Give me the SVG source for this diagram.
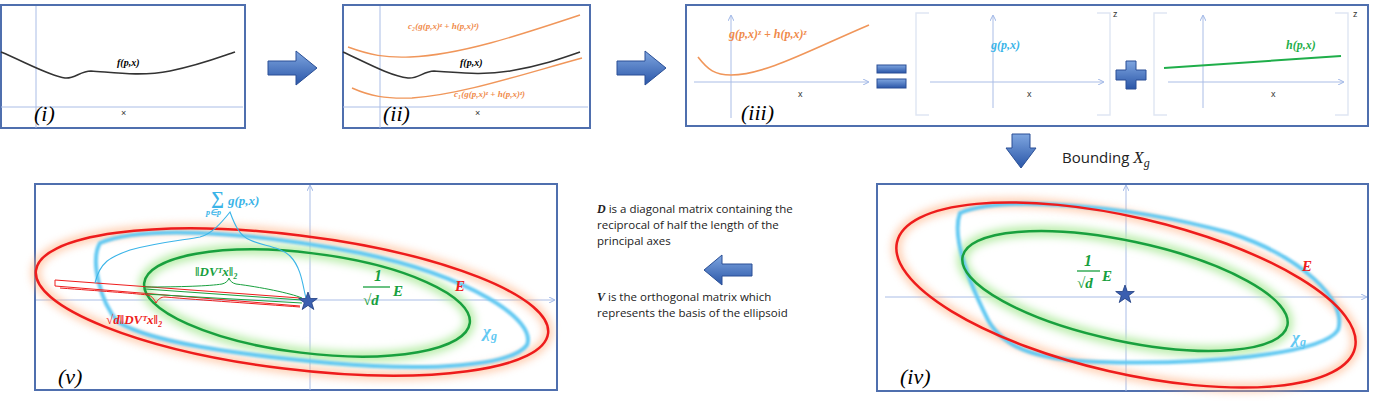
<svg xmlns="http://www.w3.org/2000/svg" width="1376" height="401" viewBox="0 0 1376 401">
<defs>
<filter id="glow" x="-20%" y="-40%" width="140%" height="180%"><feGaussianBlur stdDeviation="4"/></filter>
<filter id="soft" x="-20%" y="-40%" width="140%" height="180%"><feGaussianBlur stdDeviation="1.2"/></filter>
<linearGradient id="arr" x1="0" y1="0" x2="0" y2="1"><stop offset="0" stop-color="#7fa6e0"/><stop offset="1" stop-color="#2a56a8"/></linearGradient>
<marker id="ah" markerWidth="6" markerHeight="6" refX="5" refY="3" orient="auto"><path d="M0,0 L6,3 L0,6" fill="none" stroke="#9fb6e6"/></marker>
</defs>
<style>
.box{fill:#fff;stroke:#4f6fae;stroke-width:2}
.ax{stroke:#aabde6;stroke-width:1;fill:none}
.m{font-family:"Liberation Serif",serif;font-style:italic;font-weight:bold}
.lbl{font-family:"Liberation Serif",serif;font-style:italic;font-size:22px;fill:#000}
.t{font-family:"Open Sans","Liberation Sans",sans-serif;font-size:11.5px;fill:#222}
.sx{font-family:"Liberation Sans",sans-serif;font-size:9px;fill:#333}
.big{fill:url(#arr);stroke:#2a4f96;stroke-width:1}
</style>
<rect width="1376" height="401" fill="#fff"/>
<g id="panel-i">
<rect class="box" x="1" y="5" width="244" height="123"/>
<line class="ax" x1="36" y1="128" x2="36" y2="6"/>
<line class="ax" x1="1" y1="107" x2="243" y2="107"/>
<path d="M1,52 C25,62 50,76 65,78 C75,79 80,71 91,71 C110,72 140,77 170,71 C200,65 220,57 235,52" fill="none" stroke="#333" stroke-width="1.6"/>
<text class="m" x="117" y="66" font-size="10">f(p,x)</text>
<text class="lbl" x="34" y="121">(i)</text>
<text class="sx" x="121" y="116">×</text>
</g>
<g id="panel-ii">
<rect class="box" x="343" y="5" width="247" height="123"/>
<line class="ax" x1="380" y1="128" x2="380" y2="6"/>
<line class="ax" x1="343" y1="107" x2="588" y2="107"/>
<path d="M348,47 C370,55 385,58 410,57 C460,55 520,35 580,15" fill="none" stroke="#f0965a" stroke-width="1.4"/>
<path d="M352,88 C370,96 385,99 412,98 C460,95 520,75 582,58" fill="none" stroke="#f0965a" stroke-width="1.4"/>
<path d="M343,52 C365,62 390,76 408,78 C418,79 424,71 434,71 C455,72 480,76 510,71 C540,66 560,59 580,52" fill="none" stroke="#333" stroke-width="1.6"/>
<text class="m" x="408" y="29" font-size="9" fill="#ef8a4a">c₂(g(p,x)ᶻ + h(p,x)ᶻ)</text>
<text class="m" x="460" y="66" font-size="10">f(p,x)</text>
<text class="m" x="454" y="97" font-size="9" fill="#ef8a4a">c₁(g(p,x)ᶻ + h(p,x)ᶻ)</text>
<text class="lbl" x="383" y="121">(ii)</text>
<text class="sx" x="475" y="116">×</text>
</g>
<g id="panel-iii">
<rect class="box" x="686" y="5" width="682" height="121"/>
<line class="ax" x1="731" y1="118" x2="731" y2="16" marker-end="url(#ah)"/>
<line class="ax" x1="694" y1="82" x2="868" y2="82" marker-end="url(#ah)"/>
<path d="M698,57 C708,70 715,75 731,75 C765,75 810,50 869,25" fill="none" stroke="#f0965a" stroke-width="1.6"/>
<text class="m" x="729" y="38" font-size="12" fill="#ef8a4a" font-weight="normal">g(p,x)ᶻ + h(p,x)ᶻ</text>
<text class="sx" x="798" y="97">x</text>
<text class="lbl" x="741" y="120">(iii)</text>
<rect x="877" y="65" width="29" height="8" fill="url(#arr)" stroke="#2a4f96"/>
<rect x="877" y="79" width="29" height="9" fill="url(#arr)" stroke="#2a4f96"/>
<path d="M929,13 L916,13 L916,115 L929,115 M1097,13 L1110,13 L1110,115 L1097,115" fill="none" stroke="#dfe6f3" stroke-width="1.4"/>
<line class="ax" x1="993" y1="108" x2="993" y2="16" marker-end="url(#ah)"/>
<line class="ax" x1="930" y1="82" x2="1103" y2="82" marker-end="url(#ah)"/>
<text class="m" x="991" y="49" font-size="12" fill="#3ab4e8" font-weight="normal">g(p,x)</text>
<text class="sx" x="1027" y="97">x</text>
<text class="sx" x="1113" y="17">z</text>
<path d="M1116,70 h10 v-9 h10 v9 h10 v10 h-10 v9 h-10 v-9 h-10 z" fill="url(#arr)" stroke="#2a4f96"/>
<path d="M1167,13 L1154,13 L1154,115 L1167,115 M1335,13 L1348,13 L1348,115 L1335,115" fill="none" stroke="#dfe6f3" stroke-width="1.4"/>
<line class="ax" x1="1203" y1="108" x2="1203" y2="16" marker-end="url(#ah)"/>
<line class="ax" x1="1168" y1="82" x2="1343" y2="82" marker-end="url(#ah)"/>
<path d="M1164,68 L1341,56" stroke="#1fae4a" stroke-width="2" fill="none"/>
<text class="m" x="1286" y="49" font-size="12" fill="#1fae4a" font-weight="normal">h(p,x)</text>
<text class="sx" x="1271" y="97">x</text>
<text class="sx" x="1353" y="17">z</text>
</g>
<g id="panel-iv">
<rect class="box" x="877" y="184" width="491" height="207"/>
<line class="ax" x1="1126" y1="391" x2="1126" y2="186" marker-end="url(#ah)"/>
<line class="ax" x1="885" y1="297" x2="1366" y2="297" marker-end="url(#ah)"/>
<ellipse cx="1126" cy="295" rx="235" ry="78" transform="rotate(13 1126 295)" fill="none" stroke="#ffb080" stroke-width="8" filter="url(#glow)" opacity="0.7"/>
<ellipse cx="1125" cy="291" rx="166" ry="50" transform="rotate(12 1125 291)" fill="none" stroke="#b5eca5" stroke-width="10" filter="url(#glow)"/>
<path d="M960,213 C1000,196 1120,203 1230,233 C1300,256 1348,300 1338,330 C1322,355 1200,365 1100,362 C1030,360 1002,345 988,320 C973,290 950,240 960,213 Z" fill="none" stroke="#63c9f2" stroke-width="4" filter="url(#soft)"/>
<ellipse cx="1126" cy="295" rx="235" ry="78" transform="rotate(13 1126 295)" fill="none" stroke="#ee1c1c" stroke-width="2.5"/>
<ellipse cx="1125" cy="291" rx="166" ry="50" transform="rotate(12 1125 291)" fill="none" stroke="#18a03e" stroke-width="2.5"/>
<text class="m" x="1084" y="266" font-size="16" fill="#18a03e">1</text>
<line x1="1077" y1="271" x2="1100" y2="271" stroke="#18a03e" stroke-width="1.3"/>
<text class="m" x="1077" y="288" font-size="15" fill="#18a03e">√d</text>
<text class="m" x="1102" y="281" font-size="15" fill="#18a03e">E</text>
<text class="m" x="1302" y="271" font-size="15" fill="#ee1c1c">E</text>
<text class="m" x="1292" y="343" font-size="17" fill="#63c9f2" font-weight="normal">χ<tspan font-size="12" dy="3">g</tspan></text>
<path d="M1125,285 l2.3,6.5 h7 l-5.6,4.2 2.1,6.8 -5.8,-4.1 -5.8,4.1 2.1,-6.8 -5.6,-4.2 h7 z" fill="#3b5fb0" stroke="#1e3c80" stroke-width="0.8"/>
<text class="lbl" x="900" y="384">(iv)</text>
</g>
<g id="panel-v">
<rect class="box" x="35" y="184" width="522" height="206"/>
<line class="ax" x1="310" y1="390" x2="310" y2="186" marker-end="url(#ah)"/>
<line class="ax" x1="36" y1="300" x2="554" y2="300" marker-end="url(#ah)"/>
<ellipse cx="292" cy="302" rx="258" ry="67" transform="rotate(7 292 302)" fill="none" stroke="#ffb080" stroke-width="8" filter="url(#glow)" opacity="0.7"/>
<ellipse cx="307" cy="303" rx="164" ry="50" transform="rotate(7 307 303)" fill="none" stroke="#b5eca5" stroke-width="10" filter="url(#glow)"/>
<path d="M100,243 C140,226 240,230 360,253 C470,276 537,320 527,345 C512,366 430,372 330,363 C230,354 150,342 118,322 C100,302 90,260 100,243 Z" fill="none" stroke="#63c9f2" stroke-width="4" filter="url(#soft)"/>
<ellipse cx="292" cy="302" rx="258" ry="67" transform="rotate(7 292 302)" fill="none" stroke="#ee1c1c" stroke-width="2.5"/>
<ellipse cx="307" cy="303" rx="164" ry="50" transform="rotate(7 307 303)" fill="none" stroke="#18a03e" stroke-width="2.5"/>
<path d="M55,280 L300,298 M55,286 L300,306 M55,280 L55,286" stroke="#ee1c1c" stroke-width="1" fill="none"/>
<path d="M145,289 L302,300 M145,294 L302,303" stroke="#18a03e" stroke-width="1" fill="none"/>
<path d="M60,288 C100,291 130,293 148,295 C152,296 154,299 156,303 C158,299 161,297 165,297 C200,300 260,304 300,307" stroke="#ee1c1c" stroke-width="1" fill="none"/>
<path d="M145,287 C180,287 210,286 222,284 C226,283 228,281 229,278 C230,281 232,283 236,284 C260,287 290,293 302,298" stroke="#18a03e" stroke-width="1" fill="none"/>
<path d="M95,283 C100,262 110,257 130,250 C160,242 185,240 200,237 C212,234 222,222 230,212 C235,226 240,236 250,240 C262,246 280,246 290,256 C302,268 303,288 306,298" stroke="#3ab4e8" stroke-width="1.1" fill="none"/>
<text class="m" x="211" y="204" font-size="18" fill="#3ab4e8" font-weight="normal">∑</text>
<text class="m" x="206" y="215" font-size="8" fill="#3ab4e8">p∈p</text>
<text class="m" x="228" y="205" font-size="13" fill="#3ab4e8">g(p,x)</text>
<text class="m" x="195" y="276" font-size="13" fill="#18a03e">‖DVᵀx‖₂</text>
<text class="m" x="106" y="324" font-size="13" fill="#ee1c1c">√d‖DVᵀx‖₂</text>
<text class="m" x="374" y="281" font-size="16" fill="#18a03e">1</text>
<line x1="363" y1="287" x2="390" y2="287" stroke="#18a03e" stroke-width="1.3"/>
<text class="m" x="363" y="305" font-size="15" fill="#18a03e">√d</text>
<text class="m" x="393" y="296" font-size="15" fill="#18a03e">E</text>
<text class="m" x="455" y="291" font-size="15" fill="#ee1c1c">E</text>
<text class="m" x="483" y="337" font-size="17" fill="#63c9f2" font-weight="normal">χ<tspan font-size="12" dy="3">g</tspan></text>
<path d="M308,292 l2.3,6.5 h7 l-5.6,4.2 2.1,6.8 -5.8,-4.1 -5.8,4.1 2.1,-6.8 -5.6,-4.2 h7 z" fill="#3b5fb0" stroke="#1e3c80" stroke-width="0.8"/>
<text class="lbl" x="58" y="384">(v)</text>
</g>
<g id="notes">
<text class="t" x="597" y="213"><tspan class="m" font-size="12">D</tspan> is a diagonal matrix containing the</text>
<text class="t" x="597" y="229">reciprocal of half the length of the</text>
<text class="t" x="597" y="245">principal axes</text>
<text class="t" x="597" y="301"><tspan class="m" font-size="12">V</tspan> is the orthogonal matrix which</text>
<text class="t" x="597" y="317">represents the basis of the ellipsoid</text>
<text x="1062" y="163" font-family="Open Sans,Liberation Sans,sans-serif" font-size="15" fill="#222">Bounding <tspan font-family="Liberation Serif,serif" font-style="italic" font-size="17">X<tspan font-size="12" dy="4">g</tspan></tspan></text>
</g>
<g id="connectors">
<path class="big" d="M268,61 h28 v-10 l21,17 -21,17 v-10 h-28 z"/>
<path class="big" d="M617,61 h28 v-10 l21,17 -21,17 v-10 h-28 z"/>
<path class="big" d="M1012,134 h18 v14 h6 l-15,20 -15,-20 h6 z"/>
<path class="big" d="M752,264 h-30 v-9 l-18,15 18,15 v-9 h30 z"/>
</g>
</svg>
